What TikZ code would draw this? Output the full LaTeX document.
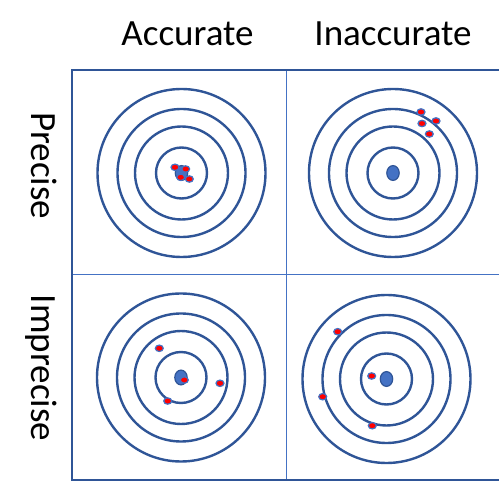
\documentclass[tikz,border=0pt]{standalone}
\usepackage{fontspec}
\setmainfont{Carlito}
\usetikzlibrary{positioning}
\definecolor{ringblue}{RGB}{47,85,151}
\definecolor{gridblue}{RGB}{68,114,196}
\tikzset{
  ring/.style={draw=ringblue,line width=2.4pt},
  rim/.style={draw=ringblue,line width=2.3pt},
  gridline/.style={draw=gridblue,line width=1pt},
  bull/.style={fill=gridblue,draw=ringblue,line width=1.2pt},
  hit/.style={fill=red,draw=gridblue,line width=1.2pt},
  heading/.style={font=\fontsize{37}{40}\selectfont,anchor=base,inner sep=0pt}
}

\begin{document}
\begin{tikzpicture}[x=1pt,y=-1pt]
  \useasboundingbox (0,0) rectangle (499,481);
  % grid of the four cells
  \coordinate (tl) at (72,70);
  \coordinate (tr) at (503,70);
  \coordinate (bl) at (72,480);
  \coordinate (br) at (503,480);
  \coordinate (mt) at (286,70);
  \coordinate (mb) at (286,480);
  \coordinate (ml) at (72,275);
  \coordinate (mr) at (503,275);
  \draw[gridline] (mt) -- (mb);
  \draw[gridline] (ml) -- (mr);
  \draw[rim] (tr) -- (tl) -- (bl) -- (br);

  % targets
  \foreach \cx/\cy/\nm in {181.5/173/acp, 393/173/inp, 181/377.5/acim, 386.5/379/inim}{
    \coordinate (\nm) at (\cx,\cy);
    \foreach \r in {84,64,46.5,25.5}
      \draw[ring] (\nm) circle (\r);
    \draw[bull] (\nm) ellipse (6.2 and 7.4);
  }

  % shots
  \foreach \hx/\hy in {175/167.3, 185.7/169, 180.7/177.3, 189.3/179,
                       421/112, 436/121, 422/123.5, 429.3/134,
                       184.3/380, 159.3/348.3, 220/383.3, 167.7/401,
                       371.7/376, 337.7/331.7, 322.7/396.7, 372.3/425.7}
    \draw[hit] (\hx,\hy) ellipse (4 and 3.2);

  % labels
  \node[heading] (acc) at (187.5,46) {Accurate};
  \node[heading] (inacc) at (393,46) {Inaccurate};
  \node[heading,rotate=-90] (prec) at (31.5,165.5) {Precise};
  \node[heading,rotate=-90] (imprec) at (31.5,368) {Imprecise};
\end{tikzpicture}
\end{document}
